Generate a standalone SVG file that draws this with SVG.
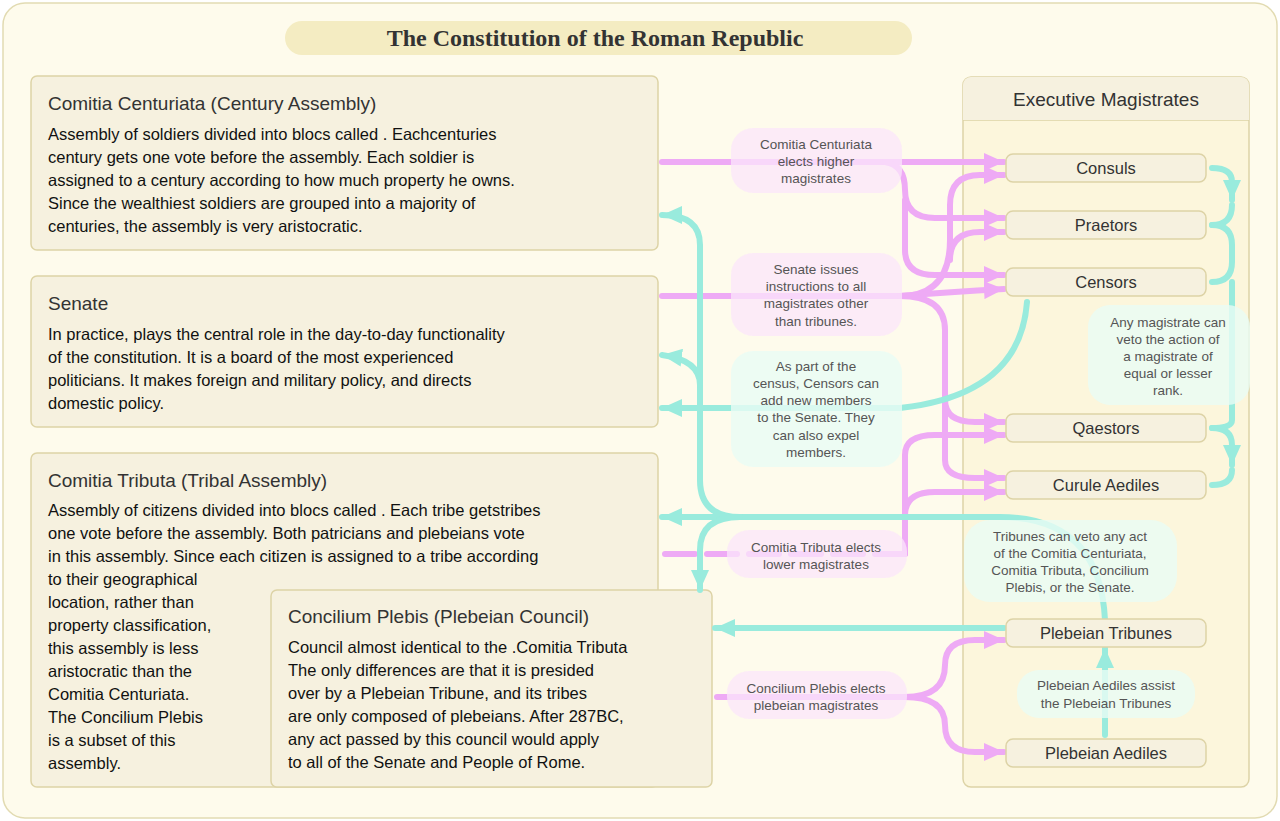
<svg xmlns="http://www.w3.org/2000/svg" width="1280" height="821" viewBox="0 0 1280 821">
<defs>
<marker id="ap" markerUnits="userSpaceOnUse" markerWidth="22" markerHeight="18" refX="20" refY="9" orient="auto"><path d="M0,0 L20,9 L0,18 Z" fill="#eeaaf5"/></marker>
<marker id="at" markerUnits="userSpaceOnUse" markerWidth="22" markerHeight="18" refX="20" refY="9" orient="auto"><path d="M0,0 L20,9 L0,18 Z" fill="#99ebdd"/></marker>
</defs>
<style>
text{font-family:"Liberation Sans",Arial,sans-serif;fill:#222}
.box{fill:#f6f1df;stroke:#ddd3a6;stroke-width:1.5}
.mag{fill:#f6f1df;stroke:#ddd3a6;stroke-width:1.5}
.h{font-size:19px;fill:#333}
.b{font-size:16.5px;fill:#111}
.m{font-size:16.5px;fill:#333;text-anchor:middle}
.p{fill:none;stroke:#eeaaf5;stroke-width:6;stroke-linecap:round}
.t{fill:none;stroke:#99ebdd;stroke-width:6;stroke-linecap:round}
.lp{fill:#fbe6fb;opacity:.75}
.lt{fill:#e8fcf5;opacity:.8}
.l{font-size:13.5px;fill:#555;text-anchor:middle}
</style>
<rect x="3" y="3" width="1274" height="815" rx="22" fill="#fefbec" stroke="#e2dbb2" stroke-width="1.5"/>
<rect x="285" y="21" width="627" height="34" rx="17" fill="#f4ecc2"/>
<text x="595" y="46" text-anchor="middle" style="font-family:'Liberation Serif',serif;font-size:24px;font-weight:bold;fill:#333">The Constitution of the Roman Republic</text>

<g id="exec">
<rect x="963" y="77" width="286" height="710" rx="8" fill="#fcf6dc" stroke="#ddd3a6" stroke-width="1.5"/>
<path d="M963,120 L1249,120" stroke="#ddd3a6" stroke-width="1.5"/>
<path d="M971,77 h270 a8,8 0 0 1 8,8 v35 h-286 v-35 a8,8 0 0 1 8,-8z" fill="#f6f1df"/>
<text x="1106" y="106" class="m" style="font-size:19px">Executive Magistrates</text>
</g>

<g id="cc"><rect class="box" x="31" y="76" width="627" height="174" rx="6"/>
<text class="h" x="48" y="110">Comitia Centuriata (Century Assembly)</text>
<text class="b" x="48" y="140">Assembly of soldiers divided into blocs called .  Eachcenturies</text>
<text class="b" x="48" y="163">century gets one vote before the assembly.  Each soldier is</text>
<text class="b" x="48" y="186">assigned to a century according to how much property he owns.</text>
<text class="b" x="48" y="209">Since the wealthiest soldiers are grouped into a majority of</text>
<text class="b" x="48" y="232">centuries, the assembly is very aristocratic.</text></g>

<g id="senate"><rect class="box" x="31" y="276" width="627" height="151" rx="6"/>
<text class="h" x="48" y="310">Senate</text>
<text class="b" x="48" y="340">In practice, plays the central role in the day-to-day functionality</text>
<text class="b" x="48" y="363">of the constitution.  It is a board of the most experienced</text>
<text class="b" x="48" y="386">politicians.  It makes foreign and military policy, and directs</text>
<text class="b" x="48" y="409">domestic policy.</text></g>

<g id="ct"><rect class="box" x="31" y="453" width="627" height="334" rx="6"/>
<text class="h" x="48" y="487">Comitia Tributa (Tribal Assembly)</text>
<text class="b" x="48" y="516">Assembly of citizens divided into blocs called .  Each tribe getstribes</text>
<text class="b" x="48" y="539">one vote before the assembly.  Both patricians and plebeians vote</text>
<text class="b" x="48" y="562">in this assembly.  Since each citizen is assigned to a tribe according</text>
<text class="b" x="48" y="585">to their geographical</text>
<text class="b" x="48" y="608">location, rather than</text>
<text class="b" x="48" y="631">property classification,</text>
<text class="b" x="48" y="654">this assembly is less</text>
<text class="b" x="48" y="677">aristocratic than the</text>
<text class="b" x="48" y="700">Comitia Centuriata.</text>
<text class="b" x="48" y="723">The Concilium Plebis</text>
<text class="b" x="48" y="746">is a subset of this</text>
<text class="b" x="48" y="769">assembly.</text></g>

<g id="cp"><rect class="box" x="271" y="590" width="441" height="197" rx="6"/>
<text class="h" x="288" y="623">Concilium Plebis (Plebeian Council)</text>
<text class="b" x="288" y="653">Council almost identical to the .Comitia Tributa</text>
<text class="b" x="288" y="676">The only differences are that it is presided</text>
<text class="b" x="288" y="699">over by a Plebeian Tribune, and its tribes</text>
<text class="b" x="288" y="722">are only composed of plebeians.  After 287BC,</text>
<text class="b" x="288" y="745">any act passed by this council would apply</text>
<text class="b" x="288" y="768">to all of the Senate and People of Rome.</text></g>

<g id="connectors">
<!-- Comitia Centuriata -->
<path class="p" marker-end="url(#ap)" d="M662,162 L1004,162"/>
<path class="p" marker-end="url(#ap)" d="M885,162 Q905,165 905,190 Q905,218 935,218 L1004,218"/>
<path class="p" marker-end="url(#ap)" d="M905,200 L905,250 Q905,275 935,275 L1004,275"/>
<!-- Senate -->
<path class="p" d="M662,296 L900,296"/>
<path class="p" marker-end="url(#ap)" d="M900,296 Q950,296 950,240 L950,205 Q950,175 980,175 L1004,175"/>
<path class="p" marker-end="url(#ap)" d="M950,260 Q950,232 980,232 L1004,232"/>
<path class="p" marker-end="url(#ap)" d="M900,296 Q950,292 1004,289"/>
<path class="p" marker-end="url(#ap)" d="M900,296 Q945,296 945,330 L945,400 Q945,422 975,422 L1004,422"/>
<path class="p" marker-end="url(#ap)" d="M945,400 L945,460 Q945,478 975,478 L1004,478"/>
<!-- Comitia Tributa -->
<path class="p" stroke-dasharray="30,12" d="M665,554 L905,554"/>
<path class="p" marker-end="url(#ap)" d="M905,554 L905,455 Q905,435 935,435 L1004,435"/>
<path class="p" marker-end="url(#ap)" d="M905,515 Q905,492 935,492 L1004,492"/>
<!-- Censors to Senate -->
<path class="t" marker-end="url(#at)" d="M1027,302 Q1020,395 900,408 L662,408"/>
<!-- Tribunes veto -->
<path class="t" marker-end="url(#at)" d="M1105,620 Q1100,517 1000,517 L662,517"/>
<path class="t" marker-end="url(#at)" d="M740,517 Q700,517 700,480 L700,245 Q700,215 662,215"/>
<path class="t" marker-end="url(#at)" d="M700,385 Q700,360 662,355"/>
<path class="t" marker-end="url(#at)" d="M740,517 Q700,517 700,550 L700,590"/>
<path class="t" marker-end="url(#at)" d="M1004,628 L715,628"/>
<!-- Concilium Plebis -->
<path class="p" marker-end="url(#ap)" d="M717,697 L905,697 Q945,697 945,665 Q945,640 975,640 L1004,640"/>
<path class="p" marker-end="url(#ap)" d="M905,697 Q945,697 945,725 Q945,752 975,752 L1004,752"/>
<!-- Aediles assist -->
<path class="t" marker-end="url(#at)" d="M1105,735 L1105,648"/>
<!-- magistrate veto -->
<path class="t" marker-end="url(#at)" d="M1212,168 Q1232,168 1232,182 L1232,200"/>
<path class="t" d="M1212,225 Q1232,225 1232,205"/>
<path class="t" d="M1212,225 Q1232,225 1232,245 L1232,262 Q1232,282 1212,282"/>
<path class="t" d="M1232,282 L1232,420 Q1232,428 1212,428"/>
<path class="t" marker-end="url(#at)" d="M1212,428 Q1232,428 1232,445 L1232,465"/>
<path class="t" d="M1212,485 Q1232,485 1232,470"/>
</g>

<g id="labels">
<rect class="lp" x="731" y="128" width="171" height="65" rx="22"/>
<text class="l" x="816" y="149">Comitia Centuriata</text><text class="l" x="816" y="166">elects higher</text><text class="l" x="816" y="183">magistrates</text>
<rect class="lp" x="731" y="253" width="171" height="83" rx="22"/>
<text class="l" x="816" y="274">Senate issues</text><text class="l" x="816" y="291">instructions to all</text><text class="l" x="816" y="308">magistrates other</text><text class="l" x="816" y="326">than tribunes.</text>
<rect class="lt" x="731" y="351" width="171" height="116" rx="22"/>
<text class="l" x="816" y="371">As part of the</text><text class="l" x="816" y="388">census, Censors can</text><text class="l" x="816" y="405">add new members</text><text class="l" x="816" y="422">to the Senate.  They</text><text class="l" x="816" y="440">can also expel</text><text class="l" x="816" y="457">members.</text>
<rect class="lp" x="727" y="530" width="180" height="48" rx="22"/>
<text class="l" x="816" y="552">Comitia Tributa elects</text><text class="l" x="816" y="569">lower magistrates</text>
<rect class="lp" x="727" y="671" width="180" height="48" rx="22"/>
<text class="l" x="816" y="693">Concilium Plebis elects</text><text class="l" x="816" y="710">plebeian magistrates</text>
<rect class="lt" x="1088" y="305" width="162" height="100" rx="22"/>
<text class="l" x="1168" y="327">Any magistrate can</text><text class="l" x="1168" y="344">veto the action of</text><text class="l" x="1168" y="361">a magistrate of</text><text class="l" x="1168" y="378">equal or lesser</text><text class="l" x="1168" y="395">rank.</text>
<rect class="lt" x="964" y="520" width="213" height="82" rx="26"/>
<text class="l" x="1070" y="541">Tribunes can veto any act</text><text class="l" x="1070" y="558">of the Comitia Centuriata,</text><text class="l" x="1070" y="575">Comitia Tributa, Concilium</text><text class="l" x="1070" y="592">Plebis, or the Senate.</text>
<rect class="lt" x="1017" y="670" width="178" height="48" rx="22"/>
<text class="l" x="1106" y="690">Plebeian Aediles assist</text><text class="l" x="1106" y="708">the Plebeian Tribunes</text>
</g>

<g id="consuls"><rect class="mag" x="1006" y="154" width="200" height="28" rx="7"/><text class="m" x="1106" y="174">Consuls</text></g>
<g id="praetors"><rect class="mag" x="1006" y="211" width="200" height="28" rx="7"/><text class="m" x="1106" y="231">Praetors</text></g>
<g id="censors"><rect class="mag" x="1006" y="268" width="200" height="28" rx="7"/><text class="m" x="1106" y="288">Censors</text></g>
<g id="qaestors"><rect class="mag" x="1006" y="414" width="200" height="28" rx="7"/><text class="m" x="1106" y="434">Qaestors</text></g>
<g id="curule"><rect class="mag" x="1006" y="471" width="200" height="28" rx="7"/><text class="m" x="1106" y="491">Curule Aediles</text></g>
<g id="tribunes"><rect class="mag" x="1006" y="619" width="200" height="28" rx="7"/><text class="m" x="1106" y="639">Plebeian Tribunes</text></g>
<g id="paediles"><rect class="mag" x="1006" y="739" width="200" height="28" rx="7"/><text class="m" x="1106" y="759">Plebeian Aediles</text></g>
</svg>
